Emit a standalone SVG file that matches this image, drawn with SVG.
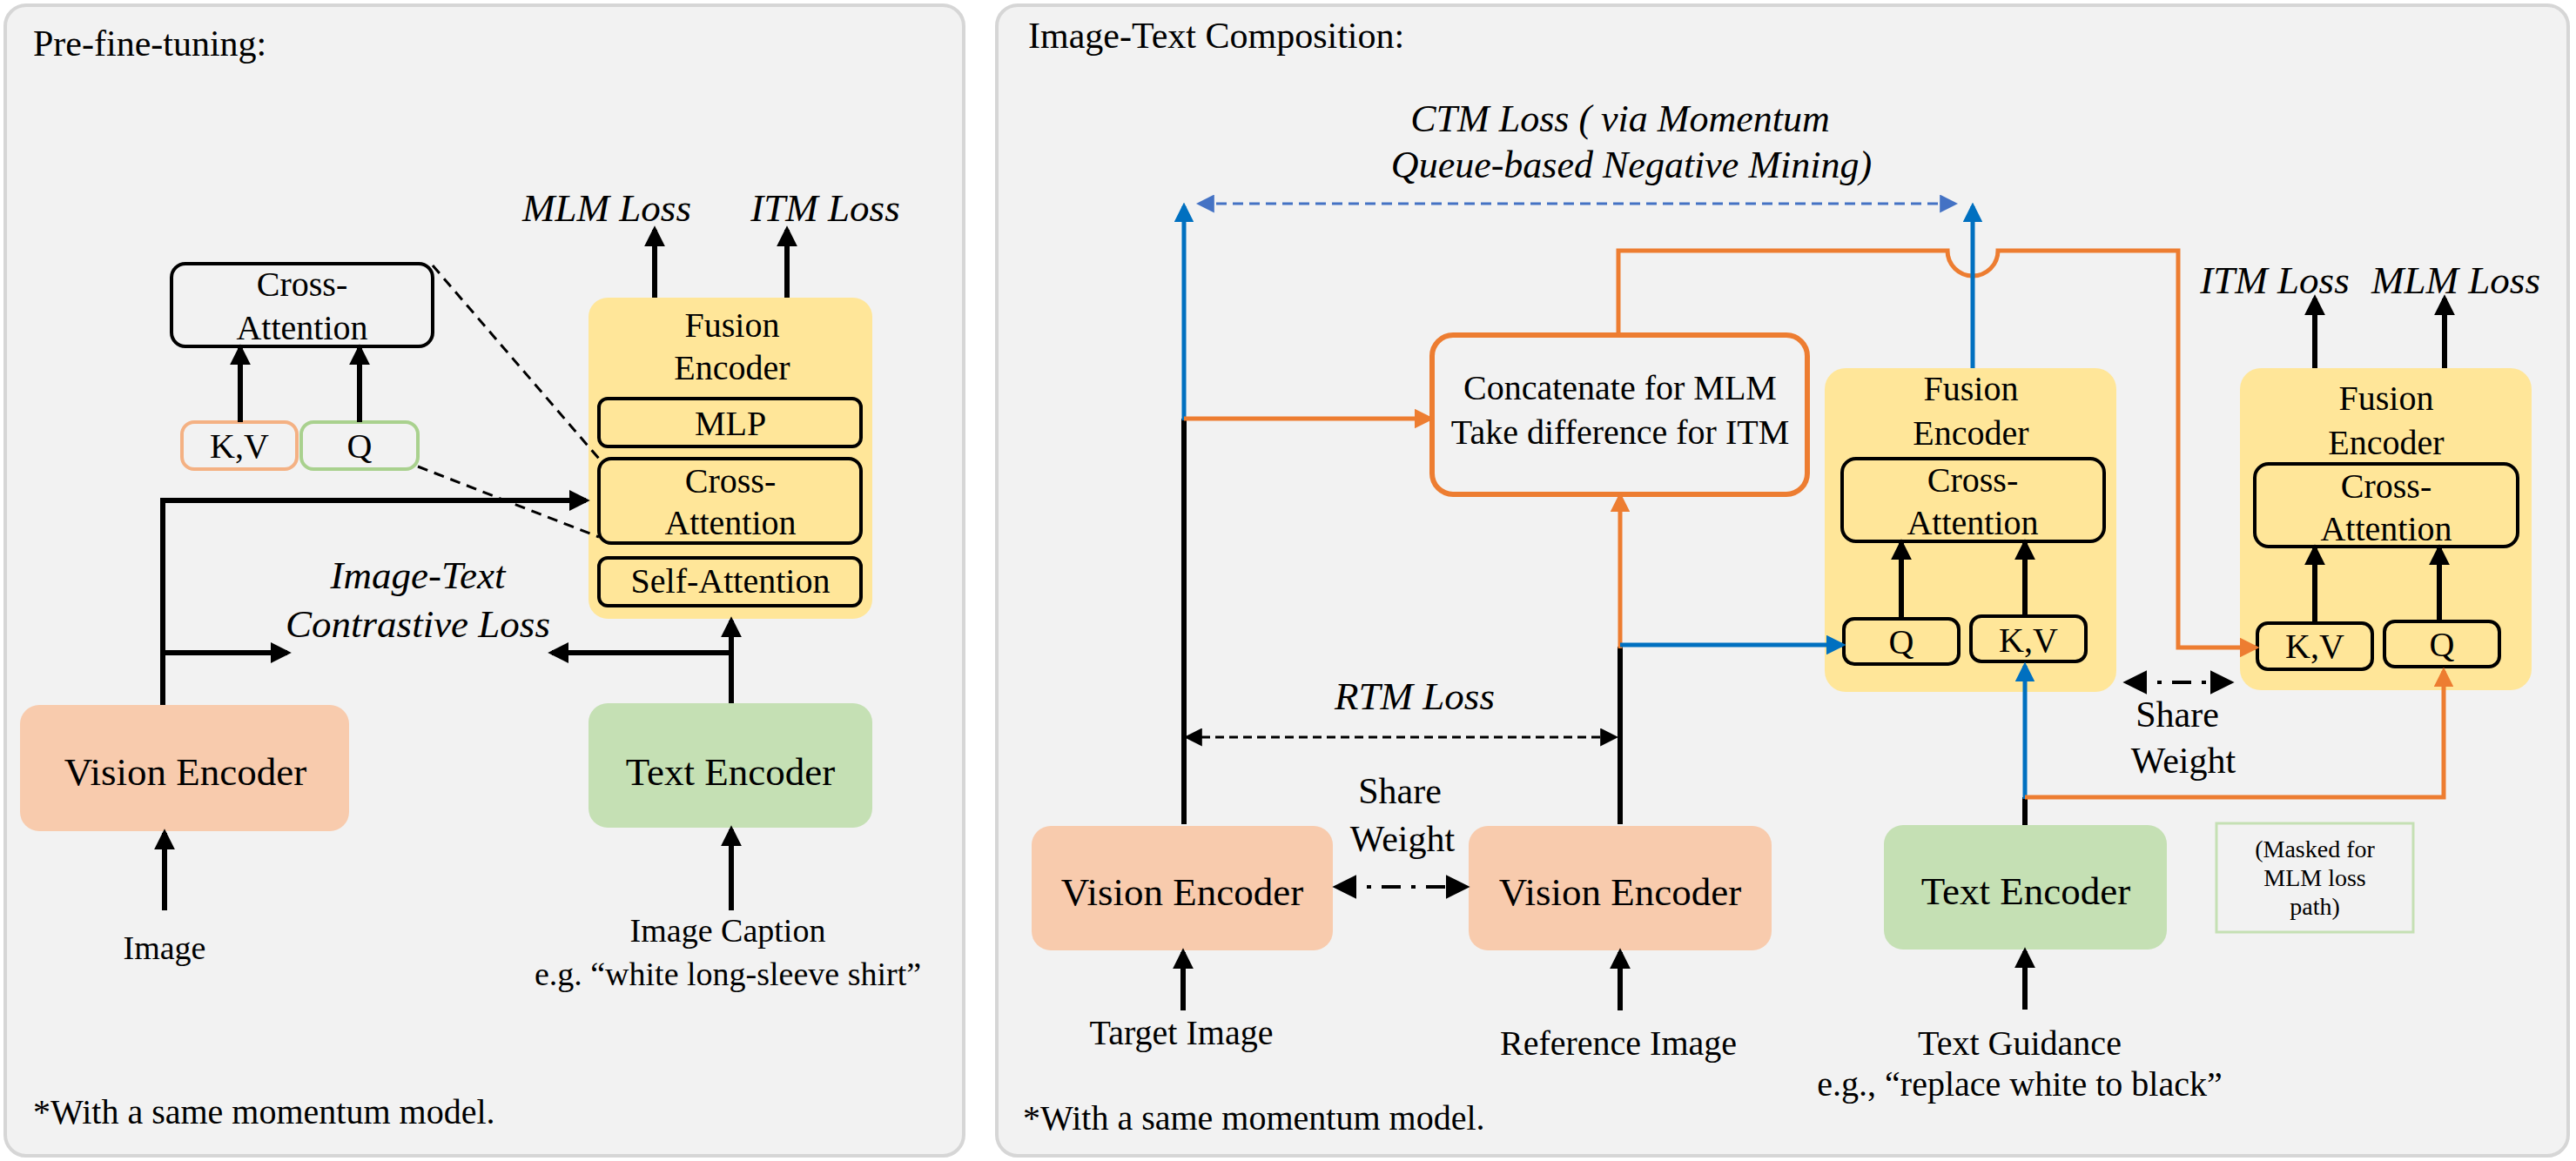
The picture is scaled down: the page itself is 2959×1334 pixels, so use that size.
<svg xmlns="http://www.w3.org/2000/svg" width="2959" height="1334" viewBox="0 0 2959 1334">
<style>
text{font-family:"Liberation Serif","Times New Roman",serif;fill:#000}
.c{text-anchor:middle}
.i{font-style:italic}
.panel{fill:#f2f2f2;stroke:#d6d6d6;stroke-width:4}
.fus{fill:#ffe699}
.ve{fill:#f8cbad}
.te{fill:#c5e0b4}
.inner{fill:none;stroke:#000;stroke-width:4}
.k{fill:none;stroke:#000;stroke-width:6}
.o{fill:none;stroke:#ed7d31;stroke-width:5}
.b{fill:none;stroke:#0070c0;stroke-width:5}
</style>
<defs>
<marker id="ak" viewBox="0 0 10 10" refX="8" refY="5" markerWidth="4" markerHeight="4" orient="auto-start-reverse"><path d="M0,0L10,5L0,10z" fill="#000"/></marker>
<marker id="ao" viewBox="0 0 10 10" refX="8" refY="5" markerWidth="4.5" markerHeight="4.5" orient="auto-start-reverse"><path d="M0,0L10,5L0,10z" fill="#ed7d31"/></marker>
<marker id="ab" viewBox="0 0 10 10" refX="8" refY="5" markerWidth="4.5" markerHeight="4.5" orient="auto-start-reverse"><path d="M0,0L10,5L0,10z" fill="#0070c0"/></marker>
<marker id="abl" viewBox="0 0 10 10" refX="8" refY="5" markerWidth="7" markerHeight="7" orient="auto-start-reverse"><path d="M0,0L10,5L0,10z" fill="#4472c4"/></marker>
<marker id="akt" viewBox="0 0 10 10" refX="8" refY="5" markerWidth="7" markerHeight="7" orient="auto-start-reverse"><path d="M0,0L10,5L0,10z" fill="#000"/></marker>
</defs>
<g id="panel-left"><rect class="panel" x="6" y="6" width="1101" height="1322" rx="24"/>
<text x="38" y="64" font-size="42">Pre-fine-tuning:</text>
<text x="38" y="1291" font-size="40">*With a same momentum model.</text></g>
<g id="panel-right"><rect class="panel" x="1145" y="6" width="1805" height="1322" rx="24"/>
<text x="1181" y="55" font-size="42">Image-Text Composition:</text>
<text x="1175" y="1298" font-size="40">*With a same momentum model.</text></g>

<g id="l-cross-small"><rect class="inner" x="197" y="303" width="300" height="95" rx="16"/>
<text class="c" x="347" y="340" font-size="40">Cross-</text><text class="c" x="347" y="390" font-size="40">Attention</text></g>
<g id="l-kv"><rect x="209" y="485" width="132" height="54" rx="14" fill="none" stroke="#f4b183" stroke-width="4"/><text class="c" x="275" y="526" font-size="40">K,V</text></g>
<g id="l-q"><rect x="346" y="485" width="134" height="54" rx="14" fill="none" stroke="#a9d18e" stroke-width="4"/><text class="c" x="413" y="526" font-size="40">Q</text></g>
<g id="l-fusion"><rect class="fus" x="676" y="342" width="326" height="369" rx="22"/>
<text class="c" x="841" y="387" font-size="40">Fusion</text><text class="c" x="841" y="436" font-size="40">Encoder</text>
<rect class="inner" x="688" y="458" width="301" height="55" rx="10"/><text class="c" x="839" y="500" font-size="40">MLP</text>
<rect class="inner" x="688" y="527" width="301" height="97" rx="14"/><text class="c" x="839" y="566" font-size="40">Cross-</text><text class="c" x="839" y="614" font-size="40">Attention</text>
<rect class="inner" x="688" y="641" width="301" height="55" rx="10"/><text class="c" x="839" y="681" font-size="40">Self-Attention</text></g>
<g id="l-vision"><rect class="ve" x="23" y="810" width="378" height="145" rx="22"/><text class="c" x="213" y="902" font-size="45">Vision Encoder</text></g>
<g id="l-text"><rect class="te" x="676" y="808" width="326" height="143" rx="22"/><text class="c" x="839" y="902" font-size="45">Text Encoder</text></g>
<g id="l-labels">
<text class="c i" x="697" y="254" font-size="45">MLM Loss</text>
<text class="c i" x="948" y="254" font-size="45">ITM Loss</text>
<text class="c i" x="480" y="676" font-size="45">Image-Text</text>
<text class="c i" x="480" y="732" font-size="45">Contrastive Loss</text>
<text class="c" x="189" y="1102" font-size="38">Image</text>
<text class="c" x="836" y="1082" font-size="38">Image Caption</text>
<text class="c" x="836" y="1132" font-size="38">e.g. “white long-sleeve shirt”</text></g>

<g id="r-concat"><rect x="1645" y="385" width="431" height="183" rx="24" fill="none" stroke="#ed7d31" stroke-width="6"/>
<text class="c" x="1861" y="459" font-size="40">Concatenate for MLM</text><text class="c" x="1861" y="510" font-size="40">Take difference for ITM</text></g>
<g id="r-fusion1"><rect class="fus" x="2096" y="423" width="335" height="372" rx="24"/>
<text class="c" x="2264" y="460" font-size="40">Fusion</text><text class="c" x="2264" y="511" font-size="40">Encoder</text>
<rect class="inner" x="2116" y="527" width="301" height="95" rx="16"/><text class="c" x="2266" y="565" font-size="40">Cross-</text><text class="c" x="2266" y="614" font-size="40">Attention</text>
<rect class="inner" x="2118" y="711" width="132" height="52" rx="12"/><text class="c" x="2184" y="751" font-size="40">Q</text>
<rect class="inner" x="2264" y="708" width="132" height="52" rx="12"/><text class="c" x="2330" y="749" font-size="40">K,V</text></g>
<g id="r-fusion2"><rect class="fus" x="2573" y="423" width="335" height="370" rx="24"/>
<text class="c" x="2741" y="471" font-size="40">Fusion</text><text class="c" x="2741" y="522" font-size="40">Encoder</text>
<rect class="inner" x="2590" y="533" width="302" height="95" rx="16"/><text class="c" x="2741" y="572" font-size="40">Cross-</text><text class="c" x="2741" y="621" font-size="40">Attention</text>
<rect class="inner" x="2593" y="716" width="132" height="53" rx="12"/><text class="c" x="2659" y="756" font-size="40">K,V</text>
<rect class="inner" x="2739" y="714" width="132" height="52" rx="12"/><text class="c" x="2805" y="754" font-size="40">Q</text></g>
<g id="r-vision1"><rect class="ve" x="1185" y="949" width="346" height="143" rx="22"/><text class="c" x="1358" y="1040" font-size="45">Vision Encoder</text></g>
<g id="r-vision2"><rect class="ve" x="1687" y="949" width="348" height="143" rx="22"/><text class="c" x="1861" y="1040" font-size="45">Vision Encoder</text></g>
<g id="r-text"><rect class="te" x="2164" y="948" width="325" height="143" rx="22"/><text class="c" x="2327" y="1039" font-size="45">Text Encoder</text></g>
<g id="r-masked"><rect x="2546" y="946" width="226" height="125" fill="none" stroke="#c5e0b4" stroke-width="3"/>
<text class="c" x="2659" y="985" font-size="28">(Masked for</text><text class="c" x="2659" y="1018" font-size="28">MLM loss</text><text class="c" x="2659" y="1051" font-size="28">path)</text></g>
<g id="r-labels">
<text class="c i" x="1861" y="151" font-size="44">CTM Loss ( via Momentum</text>
<text class="c i" x="1874" y="204" font-size="44">Queue-based Negative Mining)</text>
<text class="c i" x="1625" y="815" font-size="45">RTM Loss</text>
<text class="c" x="1608" y="923" font-size="42">Share</text><text class="c" x="1611" y="978" font-size="42">Weight</text>
<text class="c" x="2501" y="835" font-size="42">Share</text><text class="c" x="2508" y="888" font-size="42">Weight</text>
<text class="c i" x="2613" y="337" font-size="45">ITM Loss</text>
<text class="c i" x="2821" y="337" font-size="45">MLM Loss</text>
<text class="c" x="1357" y="1200" font-size="40">Target Image</text>
<text class="c" x="1859" y="1212" font-size="40">Reference Image</text>
<text class="c" x="2320" y="1212" font-size="40">Text Guidance</text>
<text class="c" x="2320" y="1259" font-size="40">e.g., “replace white to black”</text></g>

<g id="connectors">
<path d="M497,305L688,527M480,536L688,617" fill="none" stroke="#000" stroke-width="3" stroke-dasharray="12 8"/>
<path class="k" d="M187,810V575H673" marker-end="url(#ak)"/>
<path class="k" d="M187,750H330" marker-end="url(#ak)"/>
<path class="k" d="M840,808V713" marker-end="url(#ak)"/>
<path class="k" d="M840,750H634" marker-end="url(#ak)"/>
<path class="k" d="M752,342V264" marker-end="url(#ak)"/>
<path class="k" d="M904,342V264" marker-end="url(#ak)"/>
<path class="k" d="M276,485V400" marker-end="url(#ak)"/>
<path class="k" d="M413,485V400" marker-end="url(#ak)"/>
<path class="k" d="M189,1046V957" marker-end="url(#ak)"/>
<path class="k" d="M840,1046V953" marker-end="url(#ak)"/>

<path class="k" d="M1360,947V481"/>
<path class="b" d="M1360,483V237" marker-end="url(#ab)"/>
<path class="o" d="M1360,481H1643" marker-end="url(#ao)"/>
<path d="M1378,234H2245" fill="none" stroke="#4472c4" stroke-width="3" stroke-dasharray="12 7" marker-start="url(#abl)" marker-end="url(#abl)"/>
<path class="o" d="M1859,385V288H2237A29,29 0 0 0 2295,288H2502V744H2591" marker-end="url(#ao)"/>
<path class="k" d="M1861,947V743"/>
<path class="o" d="M1861,745V570" marker-end="url(#ao)"/>
<path class="b" d="M1861,741H2116" marker-end="url(#ab)"/>
<path d="M1364,847H1855" fill="none" stroke="#000" stroke-width="3" stroke-dasharray="10 6" marker-start="url(#akt)" marker-end="url(#akt)"/>
<path d="M1536,1019H1683" fill="none" stroke="#000" stroke-width="4" stroke-dasharray="22 12 5 12" marker-start="url(#akt)" marker-end="url(#akt)"/>
<path d="M2444,784H2561" fill="none" stroke="#000" stroke-width="4" stroke-dasharray="22 12 5 12" marker-start="url(#akt)" marker-end="url(#akt)"/>
<path class="k" d="M1359,1161V1094" marker-end="url(#ak)"/>
<path class="k" d="M1861,1161V1094" marker-end="url(#ak)"/>
<path class="k" d="M2326,1160V1093" marker-end="url(#ak)"/>
<path class="b" d="M2266,423V237" marker-end="url(#ab)"/>
<path class="k" d="M2184,711V624" marker-end="url(#ak)"/>
<path class="k" d="M2326,708V624" marker-end="url(#ak)"/>
<path class="k" d="M2326,948V916"/>
<path class="b" d="M2326,918V765" marker-end="url(#ab)"/>
<path class="o" d="M2326,916H2807V771" marker-end="url(#ao)"/>
<path class="k" d="M2659,716V630" marker-end="url(#ak)"/>
<path class="k" d="M2802,714V630" marker-end="url(#ak)"/>
<path class="k" d="M2659,423V343" marker-end="url(#ak)"/>
<path class="k" d="M2808,423V343" marker-end="url(#ak)"/>
</g>
</svg>
